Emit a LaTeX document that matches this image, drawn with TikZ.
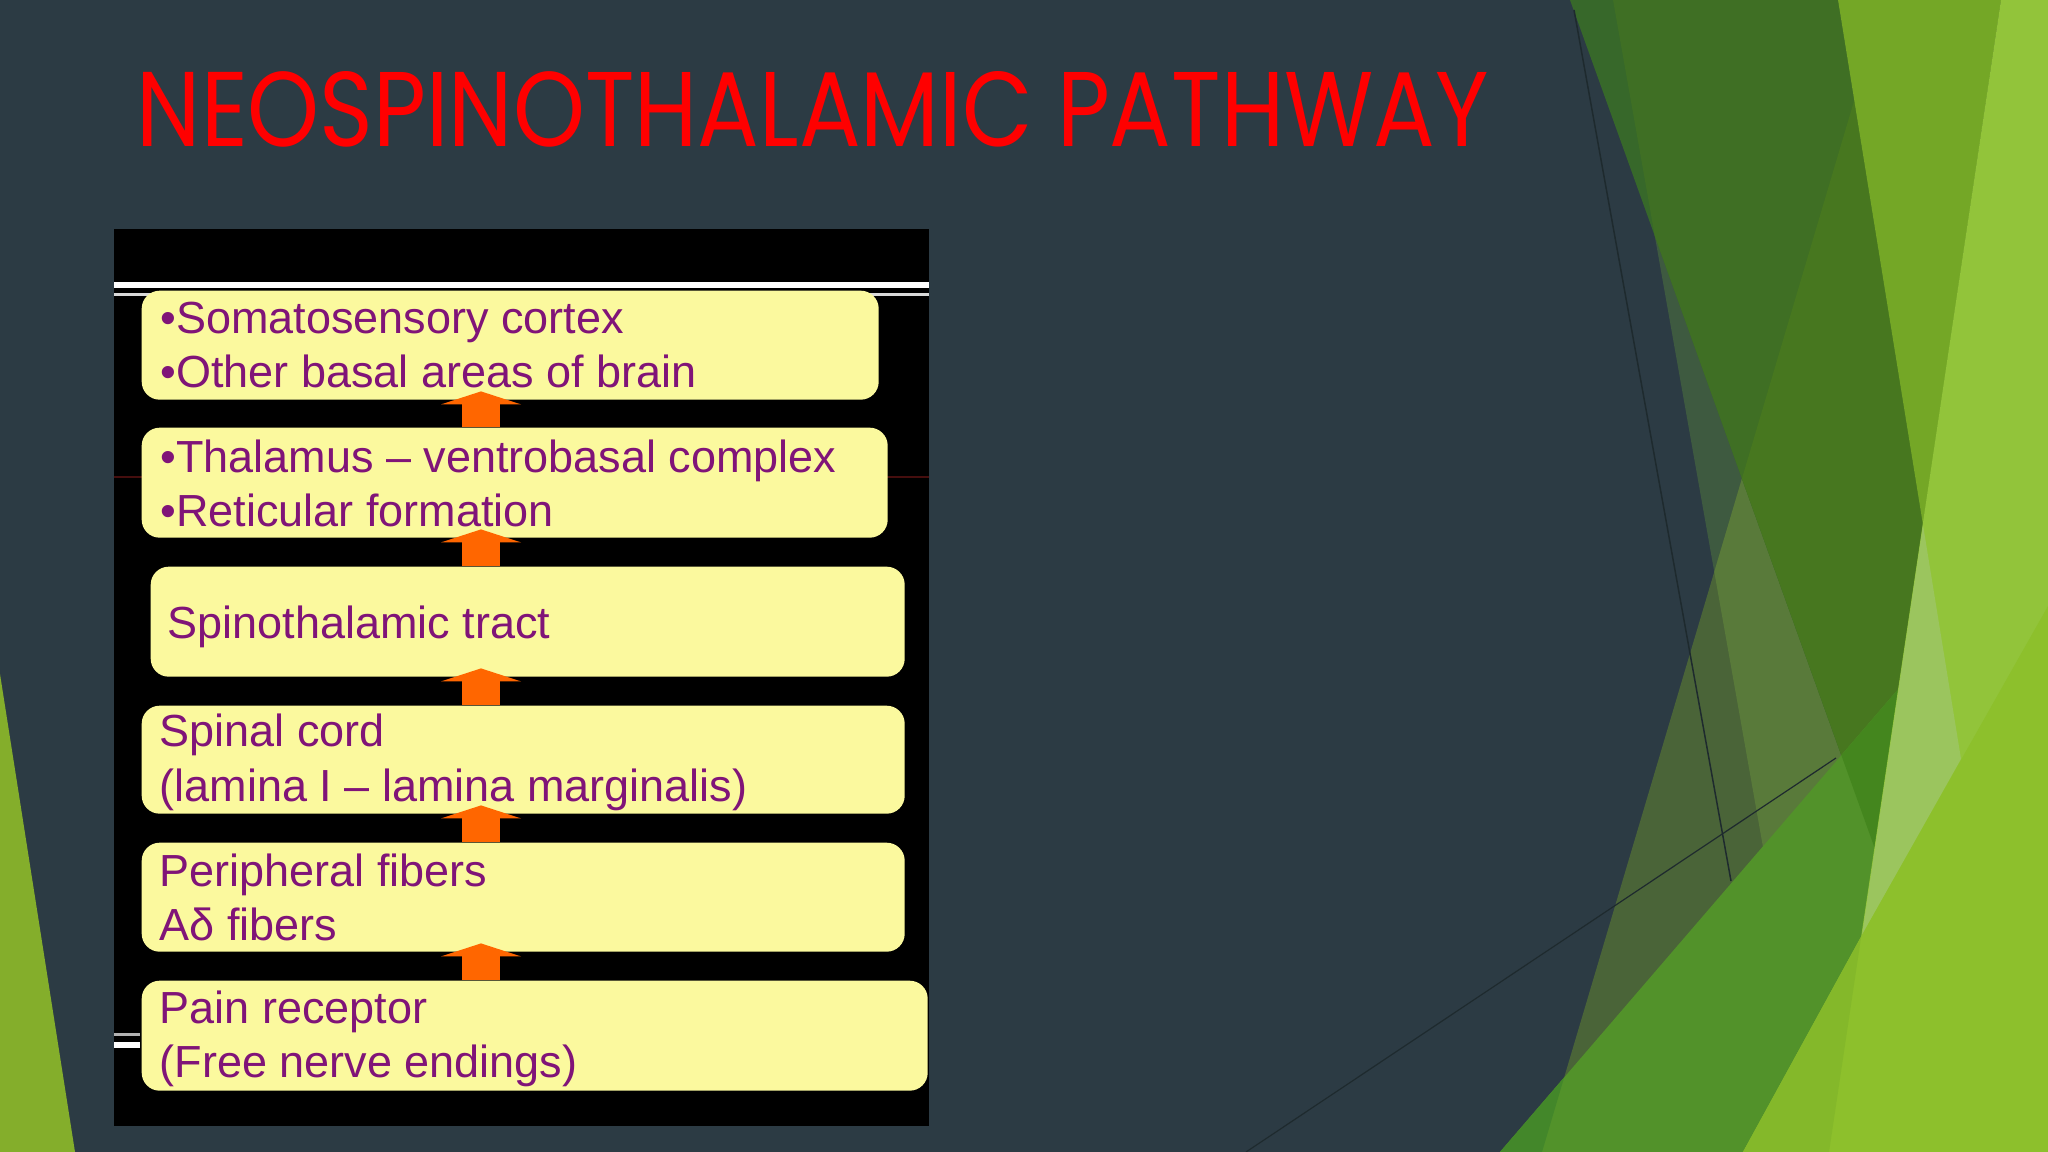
\documentclass[tikz,border=0pt]{standalone}
\usepackage{fontspec}
\usepackage{graphicx}
\usetikzlibrary{arrows.meta}
\newfontfamily\boxfont{Liberation Sans}
\newfontfamily\titlefont{Poppins}
\definecolor{slide}{RGB}{44,59,68}
\definecolor{leaf}{RGB}{132,174,43}
\definecolor{olivegrey}{RGB}{62,90,64}
\definecolor{olivedark}{RGB}{74,100,56}
\definecolor{olivelight}{RGB}{89,122,58}
\definecolor{forestA}{RGB}{55,104,42}
\definecolor{forestB}{RGB}{63,111,36}
\definecolor{forestC}{RGB}{71,119,31}
\definecolor{grass}{RGB}{82,146,42}
\definecolor{grassdark}{RGB}{67,135,42}
\definecolor{grassdeep}{RGB}{68,134,30}
\definecolor{moss}{RGB}{116,167,38}
\definecolor{lime}{RGB}{146,196,58}
\definecolor{palelime}{RGB}{155,197,94}
\definecolor{brightlime}{RGB}{141,192,44}
\definecolor{brightdim}{RGB}{132,184,42}
\definecolor{hairline}{RGB}{30,42,46}
\definecolor{stagefill}{RGB}{251,249,158}
\definecolor{stagetext}{RGB}{128,20,120}
\definecolor{arrowfill}{RGB}{255,102,0}
\definecolor{faintred}{RGB}{70,14,14}
\begin{document}
\begin{tikzpicture}[x=0.1mm, y=-0.1mm,
  stage/.style={fill=stagefill, rounded corners=1.8mm, anchor=north west, inner sep=0pt},
  txt/.style={font=\boxfont\fontsize{12.8}{15}\selectfont, text=stagetext, anchor=base west, inner sep=0pt},
  rise/.style={draw=arrowfill, line width=3.8mm, -{Triangle[width=8mm, length=1.3mm, line width=0pt]}}]
  \useasboundingbox (0,0) rectangle (2048,1152);
  \fill[slide] (0,0) rectangle (2048,1152);
  \fill[leaf] (0,674) -- (75,1152) -- (0,1152) -- cycle;

  \fill[olivegrey] (1613,0) -- (1775,915) -- (2048,915) -- (2048,0) -- cycle;
  \fill[olivedark] (1884,0) -- (1542,1152) -- (2048,1152) -- (2048,0) -- cycle;
  \begin{scope}
    \clip (1613,0) -- (1775,915) -- (2048,915) -- (2048,0) -- cycle;
    \fill[olivelight] (1884,0) -- (1542,1152) -- (2048,1152) -- (2048,0) -- cycle;
  \end{scope}
  \fill[forestA] (1570,0) -- (1838,0) -- (1961,759) -- (1875,849) -- cycle;
  \begin{scope}
    \clip (1613,0) -- (1775,915) -- (2048,915) -- (2048,0) -- cycle;
    \fill[forestB] (1570,0) -- (1838,0) -- (1961,759) -- (1875,849) -- cycle;
    \clip (1884,0) -- (1542,1152) -- (2048,1152) -- (2048,0) -- cycle;
    \fill[forestC] (1570,0) -- (1838,0) -- (1961,759) -- (1875,849) -- cycle;
  \end{scope}
  \fill[grass] (1500,1152) -- (2048,515) -- (2048,1152) -- cycle;
  \begin{scope}
    \clip (1500,1152) -- (2048,515) -- (2048,1152) -- cycle;
    \fill[grassdark] (1400,0) -- (1884,0) -- (1542,1152) -- (1400,1152) -- cycle;
    \fill[grassdeep] (1570,0) -- (1838,0) -- (1961,759) -- (1875,849) -- cycle;
  \end{scope}
  \fill[moss] (1838,0) -- (2001,0) -- (1923,525) -- cycle;
  \fill[lime] (2001,0) -- (1829,1152) -- (2048,1152) -- (2048,0) -- cycle;
  \fill[palelime] (1923,525) -- (1961,759) -- (1862,935) -- cycle;
  \fill[brightlime] (2048,606) -- (1862,935) -- (1743,1152) -- (2048,1152) -- cycle;
  \begin{scope}
    \clip (1600,0) -- (2001,0) -- (1829,1152) -- (1600,1152) -- cycle;
    \fill[brightdim] (2048,606) -- (1862,935) -- (1743,1152) -- (2048,1152) -- cycle;
  \end{scope}
  \draw[hairline, line width=0.15mm] (1574,10) -- (1731,881);
  \draw[hairline, line width=0.12mm] (1246,1152) -- (1836,758);

  \fill[black] (114,229) rectangle (929,1126);
  \draw[white, line width=0.6mm] (114,285) -- (929,285);
  \draw[white!85!black, line width=0.3mm] (114,295) -- (929,295);
  \draw[faintred, line width=0.2mm] (114,477) -- (929,477);
  \draw[white!70!black, line width=0.3mm] (114,1035) -- (140,1035);
  \draw[white, line width=0.6mm] (114,1045) -- (140,1045);

  \node[stage, minimum width=73.7mm, minimum height=10.9mm] (b1) at (141,290) {};
  \node[stage, minimum width=74.6mm, minimum height=11mm] (b2) at (141,427) {};
  \node[stage, minimum width=75.4mm, minimum height=11mm] (b3) at (150,566) {};
  \node[stage, minimum width=76.3mm, minimum height=10.8mm] (b4) at (141,705) {};
  \node[stage, minimum width=76.3mm, minimum height=10.9mm] (b5) at (141,842) {};
  \node[stage, minimum width=78.6mm, minimum height=11mm] (b6) at (141,980) {};

  \coordinate (ax) at (481,0);
  \foreach \lo/\hi in {b2/b1, b3/b2, b4/b3, b5/b4, b6/b5}
    \draw[rise] (ax |- \lo.north) -- ([yshift=0.9mm]ax |- \hi.south);

  \node[txt] (t1a) at ([xshift=1.9mm, yshift=-4.4mm]b1.north west) {•Somatosensory cortex};
  \node[txt] (t1b) at ([xshift=1.9mm, yshift=-9.8mm]b1.north west) {•Other basal areas of brain};
  \node[txt] (t2a) at ([xshift=1.9mm, yshift=-4.6mm]b2.north west) {•Thalamus – ventrobasal complex};
  \node[txt] (t2b) at ([xshift=1.9mm, yshift=-10mm]b2.north west) {•Reticular formation};
  \node[txt] (t3) at ([xshift=1.7mm, yshift=-7.3mm]b3.north west) {Spinothalamic tract};
  \node[txt] (t4a) at ([xshift=1.8mm, yshift=-4.2mm]b4.north west) {Spinal cord};
  \node[txt] (t4b) at ([xshift=1.8mm, yshift=-9.7mm]b4.north west) {(lamina I – lamina marginalis)};
  \node[txt] (t5a) at ([xshift=1.8mm, yshift=-4.5mm]b5.north west) {Peripheral fibers};
  \node[txt] (t5b) at ([xshift=1.8mm, yshift=-9.9mm]b5.north west) {Aδ fibers};
  \node[txt] (t6a) at ([xshift=1.8mm, yshift=-4.4mm]b6.north west) {Pain receptor};
  \node[txt] (t6b) at ([xshift=1.8mm, yshift=-9.8mm]b6.north west) {(Free nerve endings)};

  \node[anchor=south west, inner sep=0pt, text=red] (title) at (136,148)
    {\resizebox{135.2mm}{7.5mm}{\titlefont NEOSPINOTHALAMIC PATHWAY}};
\end{tikzpicture}
\end{document}
